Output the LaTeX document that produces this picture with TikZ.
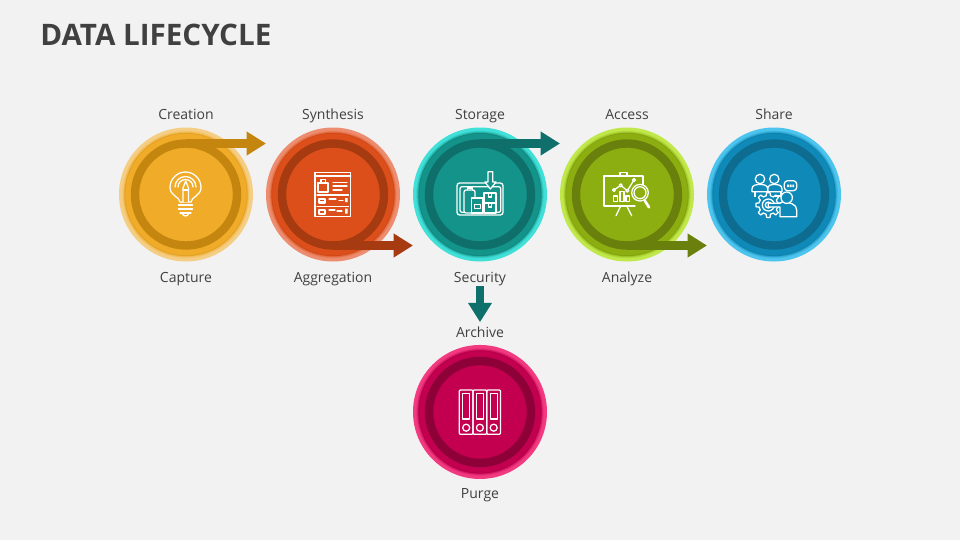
\documentclass[tikz,border=0pt]{standalone}
\usepackage{xcolor}
\usepackage{fontspec}
\setmainfont{Open Sans}
\usetikzlibrary{positioning,arrows.meta}
\definecolor{pagebg}{HTML}{F2F2F2}
\definecolor{inktext}{HTML}{404040}
\definecolor{lightamber}{HTML}{F5CE85}
\definecolor{mainamber}{HTML}{F0AC28}
\definecolor{darkamber}{HTML}{C5860F}
\definecolor{lightrust}{HTML}{EC8D70}
\definecolor{mainrust}{HTML}{DD4F1A}
\definecolor{darkrust}{HTML}{A63A10}
\definecolor{lightteal}{HTML}{40E0D8}
\definecolor{mainteal}{HTML}{13938A}
\definecolor{darkteal}{HTML}{0F6F6A}
\definecolor{lightlime}{HTML}{C0E84A}
\definecolor{mainlime}{HTML}{8CAE10}
\definecolor{darklime}{HTML}{6A800C}
\definecolor{lightsky}{HTML}{4CC4EE}
\definecolor{mainsky}{HTML}{0F8AB8}
\definecolor{darksky}{HTML}{0D6C90}
\definecolor{lightrose}{HTML}{F23A80}
\definecolor{mainrose}{HTML}{C2004F}
\definecolor{darkrose}{HTML}{8E0038}
\begin{document}
\begin{tikzpicture}[x=0.75pt,y=-0.75pt,
      disc/.style={circle,inner sep=0pt,outer sep=0pt,minimum size=100.5pt},
      core/.style={circle,inner sep=0pt,outer sep=0pt,minimum size=#1},
      ring/.style={circle,draw,inner sep=0pt,outer sep=0pt,minimum size=76.5pt,line width=6.3pt},
      lbl/.style={inner sep=0pt,text height=8pt,text depth=2.5pt,text=inktext,font=\fontsize{10.5pt}{12pt}\selectfont},
      arr/.style={-{Triangle[length=14.5pt,width=17pt]},line width=7.4pt},
      icon/.style={draw=white,line width=0.95pt,line join=round,line cap=round}]
      \fill[pagebg] (0,0) rectangle (960,540);
      \node[anchor=base west,inner sep=0pt,text=inktext,font=\fontsize{22.2pt}{26pt}\selectfont\bfseries] (title) at (40,45) {DATA LIFECYCLE};

      \node[disc,fill=lightamber] (capture) at (186,194.5) {};
      \node[disc,fill=lightrust,right=9.75pt of capture] (aggregation) {};
      \node[disc,fill=lightteal,right=9.75pt of aggregation] (security) {};
      \node[disc,fill=lightlime,right=9.75pt of security] (analyze) {};
      \node[disc,fill=lightsky,right=9.75pt of analyze] (share) {};
      \node[disc,fill=lightrose,below=62.6pt of security] (purge) {};

      \foreach \id/\col in {capture/amber,aggregation/rust,security/teal,analyze/lime,share/sky,purge/rose}{
        \node[core=95.5pt,fill=main\col!25!light\col] (\id-a) at (\id) {};
        \node[core=94pt,fill=main\col!55!light\col] (\id-b) at (\id) {};
        \node[core=92.5pt,fill=main\col!94!black] (\id-c) at (\id) {};
        \node[core=91pt,fill=main\col] (\id-d) at (\id) {};
        \node[ring,draw=dark\col] (\id-ring) at (\id) {};
      }

      \node[lbl,above=3.2pt of capture] (creationlbl) {Creation};
      \node[lbl,below=7.4pt of capture] (capturelbl) {Capture};
      \node[lbl,above=3.2pt of aggregation] (synthesislbl) {Synthesis};
      \node[lbl,below=7.4pt of aggregation] (aggregationlbl) {Aggregation};
      \node[lbl,above=3.2pt of security] (storagelbl) {Storage};
      \node[lbl,below=7.4pt of security] (securitylbl) {Security};
      \node[lbl,above=3.2pt of analyze] (accesslbl) {Access};
      \node[lbl,below=7.4pt of analyze] (analyzelbl) {Analyze};
      \node[lbl,above=3.2pt of share] (sharelbl) {Share};
      \node[lbl,above=3.2pt of purge] (archivelbl) {Archive};
      \node[lbl,below=6.7pt of purge] (purgelbl) {Purge};

      \draw[arr,draw=darkamber] (capture-ring.north) -- (capture-ring.north -| aggregation.west);
      \draw[arr,draw=darkrust] (aggregation-ring.south) -- (aggregation-ring.south -| security.west);
      \draw[arr,draw=darkteal] (security-ring.north) -- (security-ring.north -| analyze.west);
      \draw[arr,draw=darklime] (analyze-ring.south) -- (analyze-ring.south -| share.west);
      \draw[arr,draw=darkteal,line width=6pt,shorten >=3pt] (securitylbl.south) -- (archivelbl.north);

      % bulb
      \draw[icon] (180,202) .. controls (180,197) and (170,196) .. (170,187.5) arc[start angle=180,end angle=360,radius=15.5] .. controls (201,196) and (191,197) .. (191,202) -- cycle;
      \draw[icon] (175,187) arc[start angle=180,end angle=360,radius=10.5];
      \draw[icon] (178,187) arc[start angle=180,end angle=360,radius=7.5];
      \draw[icon,fill=mainamber] (183,202) -- (183,188) -- (185.7,181) -- (188.5,188) -- (188.5,202);
      \draw[icon] (183,190) -- (188.5,190);
      \draw[icon] (178.5,205) -- (192.5,205) (178.5,209) -- (192.5,209) (180,213) -- (191,213);
      \draw[icon] (182,213) .. controls (183,217) and (188,217) .. (189,213);

      % report sheet
      \draw[icon] (315,172.3) rectangle (350.7,216.7);
      \draw[icon] (315,176) -- (350.7,176);
      \draw[icon,line width=1.4pt] (318.3,183) rectangle (328.3,191.7);
      \draw[icon] (321,183) -- (321,179.5) -- (325.5,179.5) -- (325.5,183);
      \draw[icon] (333,182.7) -- (347,182.7) (333,186) -- (347,186) (333,190) -- (342,190);
      \draw[icon] (317,195) -- (348.5,195) (317,206.7) -- (348.5,206.7);
      \draw[icon,line width=1.6pt] (319,199) rectangle (325,202.5) (319,210) rectangle (325,214);
      \draw[icon] (329,199) -- (336,199) (339,200.5) -- (343,200.5) (329,210) -- (335,210) (337,211) -- (342,211);
      \fill[white] (345,198) rectangle (347.5,202) (345,208.5) rectangle (347.5,213.5);

      % storage boxes
      \draw[icon,rounded corners=2pt] (457,183) rectangle (503,215);
      \draw[icon,rounded corners=1.5pt] (460,186.7) rectangle (500.7,212.3);
      \draw[icon,fill=mainteal] (488,171.7) -- (492.7,171.7) -- (492.7,182) -- (496,182) -- (490.3,189) -- (485,182) -- (488,182) -- cycle;
      \draw[icon,fill=mainteal] (484,193) rectangle (496,203);
      \draw[icon,fill=mainteal] (484,203) rectangle (496,213);
      \draw[icon] (488.5,193) -- (488.5,197) -- (491.5,197) -- (491.5,193) (488.5,203) -- (488.5,207) -- (491.5,207) -- (491.5,203);
      \draw[icon,fill=mainteal,rounded corners=1.5pt] (464,213) -- (464,190) -- (475,190) -- (475,213) -- cycle;
      \draw[icon] (467.5,190) -- (467.5,188) -- (472.5,188) -- (472.5,190);
      \draw[icon,fill=mainteal] (471.7,198) rectangle (483,213);
      \draw[icon] (474.5,204.5) rectangle (480.5,208.5);

      % chart board
      \draw[icon] (620,176) -- (620,172.5) -- (627,172.5) -- (627,176);
      \draw[icon] (635,206) -- (604,206) -- (604,176) -- (643,176) -- (643,185);
      \draw[icon] (613.3,201.7) rectangle (617.3,196) (620,201.7) rectangle (624,191.7) (626,201.7) rectangle (629.3,196);
      \draw[icon] (614,190) -- (620.7,185.3) -- (627.3,190.7) -- (634,180);
      \draw[icon,fill=mainlime] (614,190) circle (1.5) (620.7,185.3) circle (1.5) (627.3,190.7) circle (1.5) (634,180) circle (1.5);
      \draw[icon,fill=mainlime] (640,192.7) circle (8.3);
      \draw[icon] (640,192.7) circle (6);
      \draw[icon,line width=2pt] (645,201) -- (649,207.3);
      \draw[icon] (620.7,206) -- (616,215.7) (626.7,206) -- (631.7,215.7);

      % team and gear
      \draw[icon] (760,179) circle (4.7) (774.3,179) circle (4.7);
      \draw[icon] (752,191.7) -- (752,189) .. controls (752,185) and (756,184.5) .. (760,184.5) .. controls (764,184.5) and (767.7,185) .. (767.7,189) -- (767.7,191.7) -- cycle;
      \draw[icon] (767.7,191.7) -- (767.7,189) .. controls (767.7,185) and (771,184.5) .. (774.5,184.5) .. controls (778,184.5) and (782,185) .. (782,189) -- (782,191.7) -- cycle;
      \draw[icon] (755,191.7) -- (755,196.5) (781,191.7) -- (781,196) -- (775,196);
      \draw[icon,rounded corners=2.5pt] (784.3,180.7) rectangle (796.7,190.7);
      \fill[white] (787,184.5) rectangle (788.8,187) (789.7,184.5) rectangle (791.5,187) (792.3,184.5) rectangle (794.1,187);
      \foreach \a in {0,45,...,315}{
        \draw[icon,shift={(768.3,205)}] (\a-13:9.5) -- (\a-8:12.5) -- (\a+8:12.5) -- (\a+13:9.5) arc[start angle=\a+13,end angle=\a+32,radius=9.5];
      }
      \draw[icon] (768.3,205) circle (6);
      \draw[icon] (768.3,205) circle (3);
      \draw[icon,fill=mainsky] (768.3,203.3) -- (780,203.3) -- (782,202) .. controls (790,202.5) and (796.7,204) .. (796.7,210) -- (796.7,216.7) -- (780,216.7) -- (780,207) -- (768.3,207) -- cycle;
      \draw[icon,fill=mainsky] (786.7,197.7) circle (5.7);

      % binders
      \foreach \bx in {459.3,473,486.8}{
        \draw[icon,rounded corners=0.8pt] (\bx,390) rectangle +(13.7,44.3);
        \draw[icon] (\bx+3.4,393.3) rectangle +(7,25.7);
        \draw[icon] (\bx+6.9,427.7) circle (3.5);
      }
    \end{tikzpicture}
\end{document}
